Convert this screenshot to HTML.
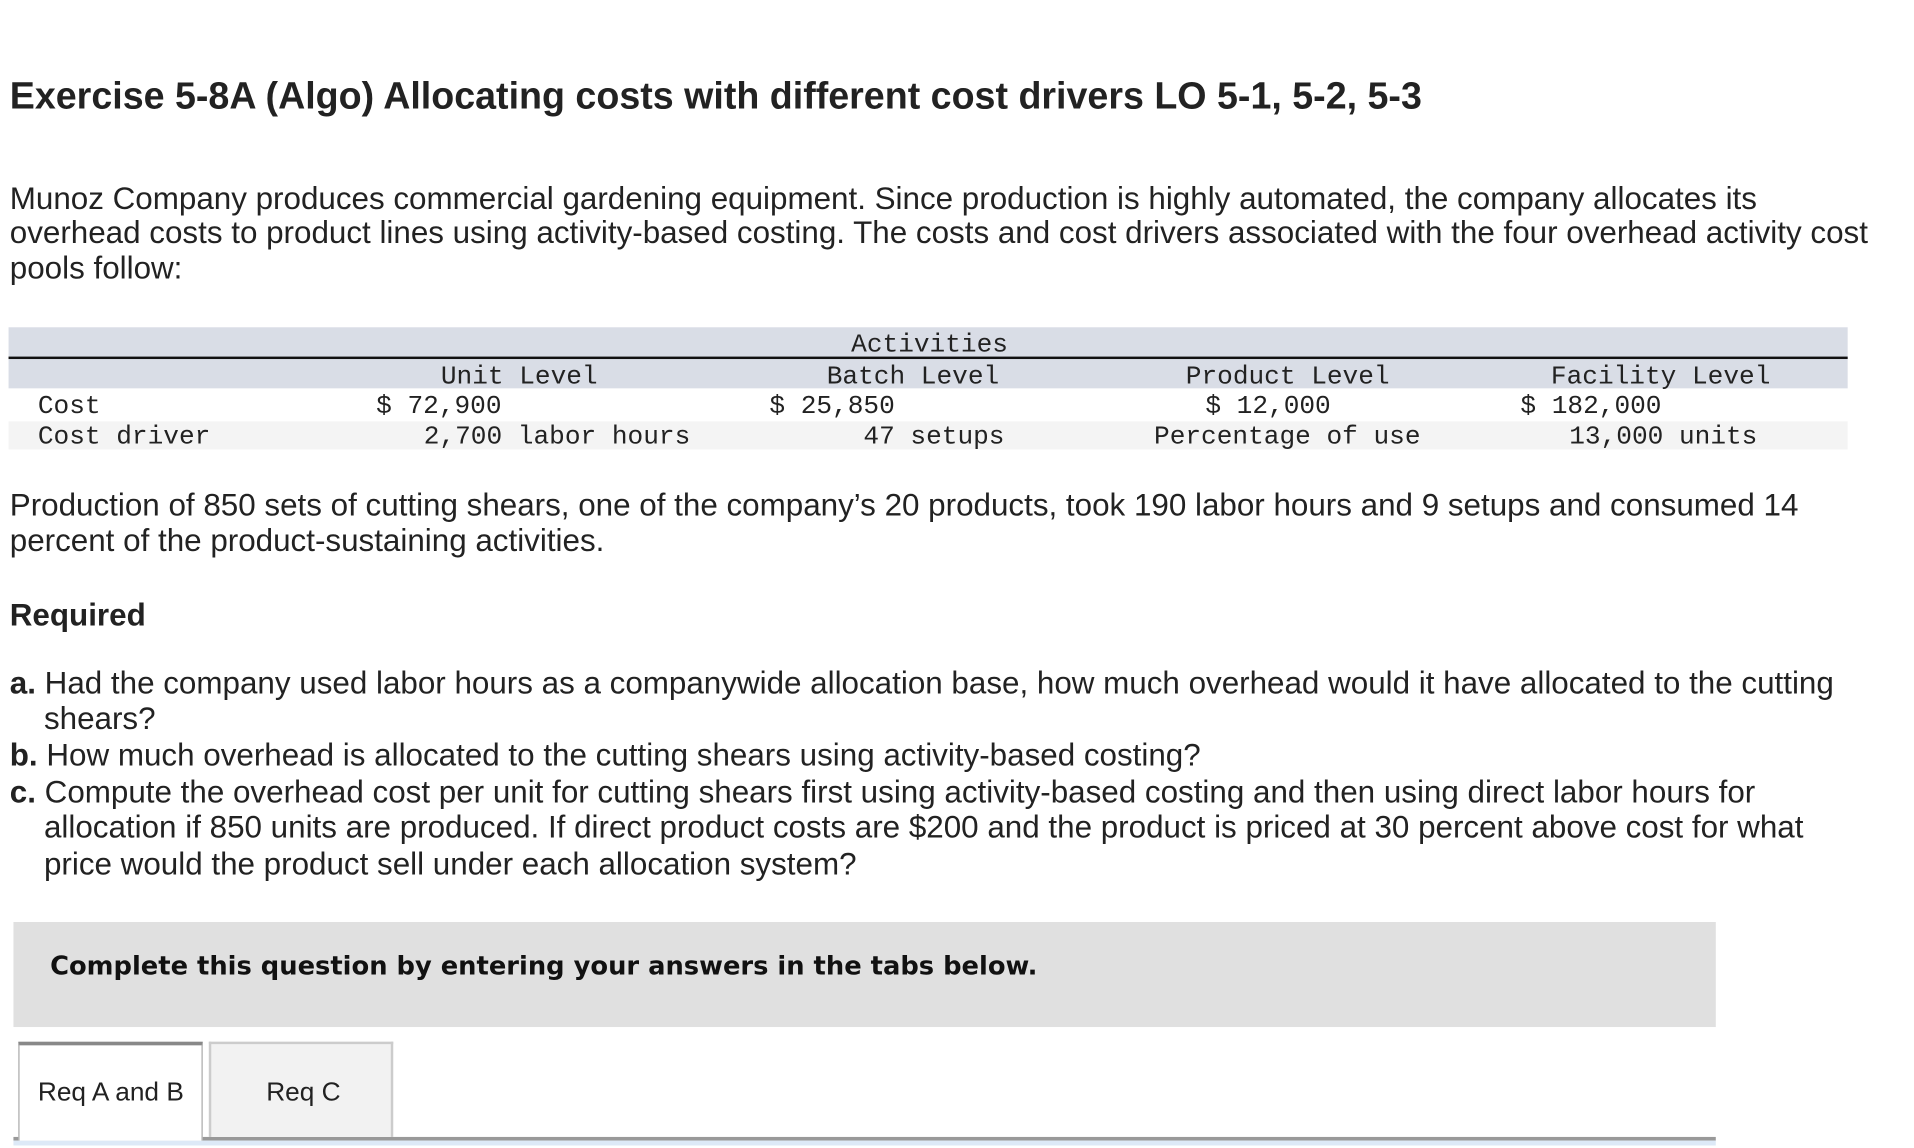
<!DOCTYPE html>
<html><head><meta charset="utf-8"><style>
html,body{margin:0;padding:0;background:#fff;width:1914px;height:1144px;overflow:hidden}
#w{position:absolute;left:0;top:0;width:1570px;height:940px;transform:scale(1.2212);transform-origin:0 0}
.t{position:absolute;white-space:nowrap;line-height:30px;font-family:"Liberation Sans",Arial,sans-serif;font-size:25.7px;color:#222}
.m{position:absolute;white-space:nowrap;line-height:24px;font-family:"Liberation Mono",monospace;font-size:21.4px;color:#222}
.b{position:absolute}
</style></head><body><div id="w">
<div class="t" style="top:64px;left:8px;font-size:30.8px;font-weight:bold;color:#222">Exercise 5-8A (Algo) Allocating costs with different cost drivers LO 5-1, 5-2, 5-3</div>
<div class="t" style="top:148px;left:8px">Munoz Company produces commercial gardening equipment. Since production is highly automated, the company allocates its</div>
<div class="t" style="top:176px;left:8px">overhead costs to product lines using activity-based costing. The costs and cost drivers associated with the four overhead activity cost</div>
<div class="t" style="top:205px;left:8px">pools follow:</div>

<div class="b" style="left:7px;top:268px;width:1506px;height:50px;background:#d9dde6"></div>
<div class="b" style="left:7px;top:292px;width:1506px;height:2px;background:#111"></div>
<div class="b" style="left:7px;top:345px;width:1506px;height:23px;background:#f4f4f4"></div>
<div class="m" style="top:271px;left:697px">Activities</div>
<div class="m" style="top:297px;left:361px">Unit Level</div>
<div class="m" style="top:297px;left:677px">Batch Level</div>
<div class="m" style="top:297px;left:971px">Product Level</div>
<div class="m" style="top:297px;left:1270px">Facility Level</div>
<div class="m" style="top:321px;left:31px">Cost</div>
<div class="m" style="top:321px;left:308px">$ 72,900</div>
<div class="m" style="top:321px;left:630px">$ 25,850</div>
<div class="m" style="top:321px;left:987px">$ 12,000</div>
<div class="m" style="top:321px;left:1245px">$ 182,000</div>
<div class="m" style="top:346px;left:31px">Cost driver</div>
<div class="m" style="top:346px;left:347px">2,700 labor hours</div>
<div class="m" style="top:346px;left:707px">47 setups</div>
<div class="m" style="top:346px;left:945px">Percentage of use</div>
<div class="m" style="top:346px;left:1285px">13,000 units</div>

<div class="t" style="top:399px;left:8px">Production of 850 sets of cutting shears, one of the company’s 20 products, took 190 labor hours and 9 setups and consumed 14</div>
<div class="t" style="top:428px;left:8px">percent of the product-sustaining activities.</div>
<div class="t" style="top:489px;left:8px;font-weight:bold">Required</div>
<div class="t" style="top:545px;left:8px"><b>a.</b> Had the company used labor hours as a companywide allocation base, how much overhead would it have allocated to the cutting</div>
<div class="t" style="top:574px;left:36px">shears?</div>
<div class="t" style="top:604px;left:8px"><b>b.</b> How much overhead is allocated to the cutting shears using activity-based costing?</div>
<div class="t" style="top:634px;left:8px"><b>c.</b> Compute the overhead cost per unit for cutting shears first using activity-based costing and then using direct labor hours for</div>
<div class="t" style="top:663px;left:36px">allocation if 850 units are produced. If direct product costs are $200 and the product is priced at 30 percent above cost for what</div>
<div class="t" style="top:693px;left:36px">price would the product sell under each allocation system?</div>

<div class="b" style="left:11px;top:755px;width:1394px;height:86px;background:#e0e0e0"></div>
<div class="t" style="top:776px;left:41px;font-family:'DejaVu Sans',sans-serif;font-weight:bold;font-size:21.1px;color:#111">Complete this question by entering your answers in the tabs below.</div>

<div class="b" style="left:11px;top:931px;width:1394px;height:3px;background:#999"></div>
<div class="b" style="left:11px;top:934px;width:1394px;height:4px;background:#dde9f7"></div>
<div class="b" style="left:15px;top:853px;width:151px;height:81px;background:#fff;border-top:3px solid #888;border-left:1px solid #aaa;border-right:1px solid #aaa;box-sizing:border-box"></div>
<div class="b" style="left:171px;top:853px;width:151px;height:78px;background:#f2f2f2;border:2px solid #ccc;border-bottom:none;box-sizing:border-box"></div>
<div class="t" style="top:879px;left:31px;font-size:21.5px">Req A and B</div>
<div class="t" style="top:879px;left:218px;font-size:21.5px">Req C</div>
</div></body></html>
